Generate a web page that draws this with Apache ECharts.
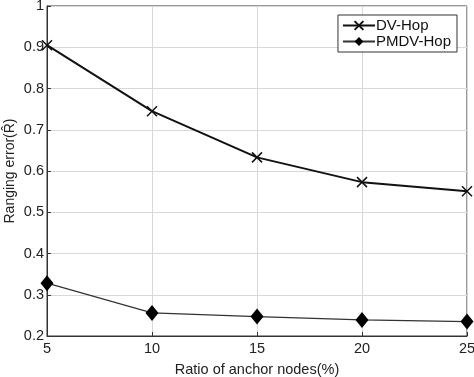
<!DOCTYPE html>
<html>
<head>
<meta charset="utf-8">
<script src="https://cdn.jsdelivr.net/npm/echarts@6/dist/echarts.min.js"></script>
<style>
  html, body { margin: 0; padding: 0; background: #fff; }
  #chart { width: 474px; height: 377px; }
</style>
</head>
<body>
<div id="chart"></div>
<script>
var anchorRatio = [5, 10, 15, 20, 25];
var dvHop = [0.905, 0.745, 0.633, 0.573, 0.551];
var pmdvHop = [0.328, 0.256, 0.247, 0.239, 0.235];

var FONT = 'Liberation Sans';
var crossPath = 'path://M0,0L10,10M10,0L0,10';

function pairs(xs, ys) {
    var out = [];
    for (var i = 0; i < xs.length; i++) out.push([xs[i], ys[i]]);
    return out;
}

var chart = echarts.init(document.getElementById('chart'));
var option = {
    animation: false,
    textStyle: { fontFamily: FONT },
    grid: {
        left: 47, right: 7, top: 6, bottom: 41,
        outerBoundsMode: 'none',
        containLabel: false,
        show: true, borderColor: '#333', borderWidth: 1
    },
    legend: {
        orient: 'vertical',
        right: 17, top: 15,
        padding: [3, 6, 3, 4],
        itemGap: 1,
        itemWidth: 32, itemHeight: 11,
        backgroundColor: '#fff',
        borderColor: '#333', borderWidth: 1, borderRadius: 0,
        textStyle: { fontFamily: FONT, fontSize: 15, color: '#111', padding: [0, 0, 0, -4] },
        data: ['DV-Hop', 'PMDV-Hop']
    },
    xAxis: {
        type: 'value',
        min: 5, max: 25, interval: 5,
        name: 'Ratio of anchor nodes(%)',
        nameLocation: 'middle', nameGap: 26,
        nameMoveOverlap: false,
        nameTextStyle: { fontFamily: FONT, fontSize: 14.5, color: '#222' },
        axisLine: { lineStyle: { color: '#333' } },
        axisTick: { inside: true, length: 4, lineStyle: { color: '#333' } },
        axisLabel: { fontFamily: FONT, fontSize: 14.5, color: '#222', margin: 5 },
        splitLine: { show: true, lineStyle: { color: '#d8d8d8' } }
    },
    yAxis: {
        type: 'value',
        min: 0.2, max: 1, interval: 0.1,
        name: 'Ranging error(R\u0302)',
        nameLocation: 'middle', nameGap: 30,
        nameMoveOverlap: false,
        nameTextStyle: { fontFamily: FONT, fontSize: 14, color: '#222' },
        axisLine: { lineStyle: { color: '#333' } },
        axisTick: { inside: true, length: 4, lineStyle: { color: '#333' } },
        axisLabel: {
            fontFamily: FONT, fontSize: 14.5, color: '#222', margin: 3,
            formatter: function (v) { return +v.toFixed(1) + ''; }
        },
        splitLine: { show: true, lineStyle: { color: '#d8d8d8' } }
    },
    series: [
        {
            name: 'DV-Hop',
            type: 'line',
            data: pairs(anchorRatio, dvHop),
            symbol: crossPath,
            symbolSize: 10,
            lineStyle: { color: '#111', width: 2 },
            itemStyle: { color: 'none', borderColor: '#111', borderWidth: 1.5 }
        },
        {
            name: 'PMDV-Hop',
            type: 'line',
            data: pairs(anchorRatio, pmdvHop),
            symbol: 'diamond',
            symbolSize: [13, 16],
            lineStyle: { color: '#333', width: 1.2 },
            itemStyle: { color: '#000', borderWidth: 0 }
        }
    ]
};
chart.setOption(option);
</script>
</body>
</html>
